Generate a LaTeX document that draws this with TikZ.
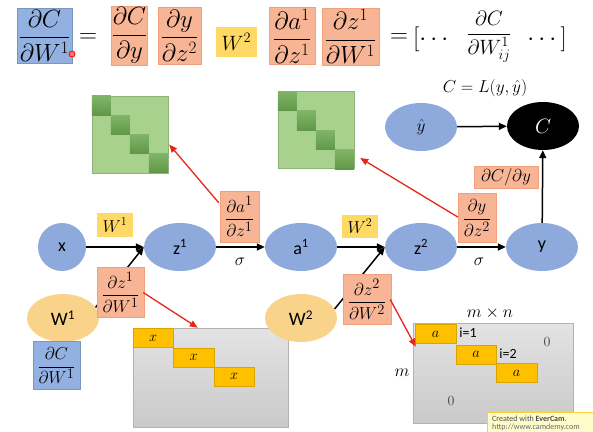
\documentclass[tikz,border=0pt]{standalone}
\usepackage{amsmath}
\usepackage{fontspec}
\newfontfamily\calfont{Carlito}
\usetikzlibrary{shapes.geometric,arrows.meta,calc}
\definecolor{nodeblue}{HTML}{8EA9DB}
\definecolor{wyellow}{HTML}{FAD38A}
\definecolor{orfill}{HTML}{F8B596}
\definecolor{ordraw}{HTML}{F2A07C}
\definecolor{yelfill}{HTML}{FFD966}
\definecolor{bluebox}{HTML}{92B0E0}
\definecolor{glight}{HTML}{A9D18E}
\definecolor{gdark}{HTML}{6AA84F}
\definecolor{cellor}{HTML}{FFC000}
\definecolor{redar}{HTML}{E8251A}
\tikzset{
  ell/.style={ellipse, fill=nodeblue, minimum width=72pt, minimum height=48pt, inner sep=0pt,
    font=\calfont\fontsize{18}{20}\selectfont},
  well/.style={ellipse, fill=wyellow, minimum width=72pt, minimum height=48pt, inner sep=0pt,
    font=\calfont\fontsize{19}{21}\selectfont},
  orbox/.style={fill=orfill, draw=ordraw, line width=0.5pt, inner sep=0pt},
  yelbox/.style={fill=yelfill, inner sep=0pt},
  blbox/.style={fill=bluebox, draw=bluebox!85!black, line width=0.4pt, inner sep=0pt},
  bigf/.style={font=\fontsize{23}{27}\selectfont},
  midf/.style={font=\fontsize{19}{23}\selectfont},
  arr/.style={-{Triangle[length=8pt,width=7pt]}, line width=1.5pt, black},
  redarr/.style={-{Triangle[length=8pt,width=6.5pt]}, line width=1.3pt, redar},
  cell/.style={fill=cellor, draw=cellor!85!black, line width=0.3pt, inner sep=0pt,
    minimum width=40.5pt, minimum height=19pt, font=\fontsize{14}{16}\selectfont},
  grid/.style={draw=gray!60, line width=0.5pt, top color=gray!22, bottom color=gray!42, inner sep=0pt},
  gmat/.style={fill=glight, draw=glight!85!black, line width=0.4pt, inner sep=0pt,
    minimum width=76pt, minimum height=77pt}
}
\begin{document}
\begin{tikzpicture}[x=1pt,y=-1pt]
\useasboundingbox (0,0) rectangle (593,431);
\clip (0,0) rectangle (593,431);
% ---------- top formula ----------
\node[blbox, bigf, minimum width=55pt, minimum height=55pt] (t1) at (44.5,35.5) {$\dfrac{\partial C}{\partial W^1}$};
\node[bigf] (teq) at (88,38) {$=$};
\node[orbox, bigf, minimum width=35pt, minimum height=59pt] (t2) at (129.5,35.5) {$\dfrac{\partial C}{\partial y}$};
\node[orbox, bigf, minimum width=43pt, minimum height=57pt] (t3) at (179.5,35.5) {$\dfrac{\partial y}{\partial z^2}$};
\node[yelbox, font=\fontsize{22}{24}\selectfont, minimum width=41pt, minimum height=30pt] (t4) at (236.5,42) {$W^2$};
\node[orbox, bigf, minimum width=46pt, minimum height=57pt] (t5) at (292,36) {$\dfrac{\partial a^1}{\partial z^1}$};
\node[orbox, bigf, minimum width=57pt, minimum height=57pt] (t6) at (350.5,36.5) {$\dfrac{\partial z^1}{\partial W^1}$};
\node[bigf, inner sep=0pt] (teq2) at (399,38) {$=$};
\node[bigf, anchor=west, inner sep=0pt] (tbr) at (413,39) {$[\cdots$};
\node[font=\fontsize{22}{26}\selectfont, inner sep=0pt] (tfr) at (489,37) {$\dfrac{\partial C}{\partial W^1_{ij}}$};
\node[bigf, anchor=east, inner sep=0pt] (tbr2) at (567,39) {$\cdots]$};
\fill[red!55] (72,54) circle (3pt);
\draw[red, line width=0.8pt] (72,54) circle (3pt);
% ---------- loss ----------
\node[font=\fontsize{19}{21}\selectfont, inner sep=0pt] (loss) at (485,88) {$C = L(y,\hat{y})$};
% ---------- green matrices ----------
\node[gmat] (g1) at (130,134.5) {};
\foreach \i in {0,1,2,3}{
  \shade[top color=gdark!85!white, bottom color=gdark!90!black] ($(g1.north west)+(19*\i,19.2*\i)$) rectangle ++(19,19.2);
}
\node[gmat] (g2) at (316,130) {};
\foreach \i in {0,1,2,3}{
  \shade[top color=gdark!85!white, bottom color=gdark!90!black] ($(g2.north west)+(19*\i,19.5*\i)$) rectangle ++(19,19.5);
}
% ---------- gray matrices ----------
\node[grid, minimum width=155pt, minimum height=99pt] (m1) at (210.5,377.5) {};
\node[cell] (c11) at (153.25,338) {$x$};
\node[cell] (c12) at (193.75,357.5) {$x$};
\node[cell] (c13) at (234.25,376.5) {$x$};
\node[grid, minimum width=160pt, minimum height=100pt] (m2) at (493,373) {};
\node[cell] (c21) at (435.5,334) {$a$};
\node[cell] (c22) at (476,354.5) {$a$};
\node[cell] (c23) at (516.5,373) {$a$};
\node[font=\calfont\fontsize{14}{16}\selectfont] (i1) at (468,333) {i=1};
\node[font=\calfont\fontsize{14}{16}\selectfont] (i2) at (508,354) {i=2};
\node[font=\fontsize{14}{16}\selectfont, text=black!75] (z1m) at (547,342) {0};
\node[font=\fontsize{14}{16}\selectfont, text=black!75] (z2m) at (451,401) {0};
\node[font=\fontsize{16}{18}\selectfont] (mn) at (490,313) {$m\times n$};
\node[font=\fontsize{16}{18}\selectfont] (mm) at (402,373) {$m$};
% ---------- nodes ----------
\node[ell, minimum width=48pt] (x) at (62,247) {x};
\node[ell] (z1) at (180,247) {z\textsuperscript{1}};
\node[ell] (a1) at (301,247) {a\textsuperscript{1}};
\node[ell] (z2) at (421,247) {z\textsuperscript{2}};
\node[ell] (y) at (542,247) {y};
\node[ell, font=\fontsize{18}{20}\selectfont] (yhat) at (421,127) {$\hat{y}$};
\node[ell, fill=black, text=white, font=\fontsize{22}{24}\selectfont] (C) at (543,126) {$C$};
\node[well] (W1) at (63,318) {W\textsuperscript{1}};
\node[well] (W2) at (301,318) {W\textsuperscript{2}};
% ---------- connectors ----------
\draw[arr] (x) -- (z1);
\draw[arr] (z1) -- (a1);
\draw[arr] (a1) -- (z2);
\draw[arr] (z2) -- (y);
\draw[arr] (y) -- (C);
\draw[arr] (yhat) -- (C);
\draw[arr] (W1.18) -- (z1.west);
\draw[arr] (W2.15) -- (z2.west);
% ---------- labels on graph ----------
\node[yelbox, font=\fontsize{18}{20}\selectfont, minimum width=36pt, minimum height=24pt] (lw1) at (115,225) {$W^1$};
\node[yelbox, font=\fontsize{18}{20}\selectfont, minimum width=36pt, minimum height=23pt] (lw2) at (360,226) {$W^2$};
\node[font=\fontsize{17}{19}\selectfont] (s1) at (240,262) {$\sigma$};
\node[font=\fontsize{17}{19}\selectfont] (s2) at (479,262) {$\sigma$};
\node[orbox, midf, minimum width=39pt, minimum height=51pt] (dadz) at (239.5,216.5) {$\dfrac{\partial a^1}{\partial z^1}$};
\node[orbox, midf, minimum width=38pt, minimum height=49pt] (dydz) at (477,218) {$\dfrac{\partial y}{\partial z^2}$};
\node[orbox, font=\fontsize{18}{20}\selectfont, minimum width=64pt, minimum height=22pt] (dCdy) at (506,177.5) {$\partial C/\partial y$};
\node[orbox, midf, minimum width=47pt, minimum height=50pt] (dzdw1) at (120.5,292.5) {$\dfrac{\partial z^1}{\partial W^1}$};
\node[orbox, midf, minimum width=48pt, minimum height=50pt] (dzdw2) at (367,299.5) {$\dfrac{\partial z^2}{\partial W^2}$};
\node[blbox, midf, minimum width=47pt, minimum height=48pt] (dCdW) at (56.5,365.5) {$\dfrac{\partial C}{\partial W^1}$};
% ---------- red arrows ----------
\draw[redarr] ($(dadz.north west)+(-1,12)$) -- ($(g1.east)+(1,10)$);
\draw[redarr] ($(dydz.west)+(0,-1)$) -- ($(g2.east)+(6,28)$);
\draw[redarr] ($(dzdw1.east)+(-1,0)$) -- ($(m1.north west)+(65,0)$);
\draw[redarr] ($(dzdw2.east)+(-1,0)$) -- ($(m2.north west)+(3,24)$);
% ---------- watermark ----------
\draw[fill=yellow!20, draw=yellow!60!orange!80] (487,412) rectangle (600,445);
\node[anchor=west, font=\calfont\fontsize{8}{9}\selectfont, text=black!70, inner sep=0pt] (wm1) at (492,419) {Created with \textbf{EverCam}.};
\node[anchor=west, font=\calfont\fontsize{8}{9}\selectfont, text=black!60, inner sep=0pt] (wm2) at (492,427.5) {http://www.camdemy.com};
\end{tikzpicture}
\end{document}
